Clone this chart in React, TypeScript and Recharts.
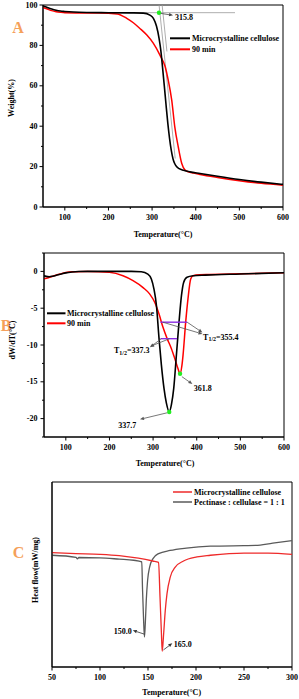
import { LineChart, Line, XAxis, YAxis, ReferenceArea, ReferenceLine, ReferenceDot } from "recharts";

const SERIF = '"Liberation Serif", "Times New Roman", serif';

// --- A: TG curves (weight %)
const tgMccT = [50, 60, 70, 80, 90, 100, 120, 150, 200, 250, 280, 295, 303, 310, 316, 320, 324, 328, 332, 336, 340, 344, 348, 352, 356, 362, 372, 387, 410, 450, 500, 550, 600];
const tgMccW = [99.5, 98.8, 98.0, 97.4, 97.0, 96.8, 96.5, 96.3, 96.2, 96.1, 96.0, 95.0, 93.4, 89.6, 83.5, 77.5, 69, 60, 50.5, 41.5, 34, 28, 23.8, 21.4, 20.0, 19.0, 18.2, 17.4, 16.6, 15.2, 13.6, 12.3, 11.2];
const tg90T = [50, 60, 70, 80, 90, 100, 150, 180, 220, 242, 257, 272, 288, 303, 318, 330, 337, 345, 352, 360, 368, 375, 383, 395, 410, 450, 500, 550, 600];
const tg90W = [98.8, 98.0, 97.2, 96.7, 96.4, 96.2, 96.0, 96.0, 95.6, 93.4, 91.2, 88.4, 85.1, 81.0, 75.2, 69.4, 62.8, 52.9, 39.7, 29.7, 21.5, 18.4, 17.4, 16.8, 16.1, 14.6, 13.0, 11.7, 10.8];
const tgXTicks = [100, 150, 200, 250, 300, 350, 400, 450, 500, 550, 600];
const tgYTicks = [0, 10, 20, 30, 40, 50, 60, 70, 80, 90, 100];

// --- B: DTG curves
const dtgMccT = [50, 55, 62, 70, 80, 90, 100, 115, 130, 150, 200, 250, 273, 288, 296, 302, 307.6, 313.6, 319, 325, 330.5, 337, 342, 347.3, 353.4, 359.4, 365, 370, 377.7, 392, 420, 500, 600];
const dtgMccV = [-0.6, -0.68, -0.72, -0.65, -0.5, -0.35, -0.2, -0.08, -0.02, 0, 0, 0, -0.05, -0.36, -1.03, -2.4, -4.6, -9.1, -12.7, -15.9, -17.9, -19.1, -18.1, -15.9, -11.4, -6.9, -3.3, -1.5, -0.8, -0.6, -0.5, -0.35, -0.18];
const dtg90T = [50, 60, 70, 80, 90, 100, 120, 150, 200, 231, 254, 277, 292, 303.7, 313.6, 322.7, 332, 342, 349.5, 357, 361.8, 366, 368.6, 374.7, 380, 386.2, 391.5, 406.8, 430, 500, 600];
const dtg90V = [-1.0, -0.85, -0.65, -0.45, -0.3, -0.15, -0.05, 0, -0.13, -0.6, -1.26, -2.2, -3.05, -4.2, -5.8, -7.6, -9.1, -10.5, -11.8, -13.2, -13.9, -12.8, -11.4, -6.9, -3.7, -1.03, -0.6, -0.45, -0.42, -0.33, -0.18];
const dtgXTicks = [100, 150, 200, 250, 300, 350, 400, 450, 500, 550, 600];
const dtgYTicks = [-22.5, -20, -17.5, -15, -12.5, -10, -7.5, -5, -2.5, 0, 2.5];

// --- C: DSC curves (arbitrary heat flow units)
const dscMccT = [50, 75, 100, 120, 140, 155, 161, 162.5, 164, 164.8, 166.3, 168, 169.8, 173.2, 178.4, 187, 201, 215, 250, 275, 300];
const dscMccV = [61.8, 61.3, 60.9, 60.2, 58.8, 57.3, 56.6, 38, 18, 8.5, 18, 30.6, 39.7, 48.6, 54, 57.3, 59.5, 60.4, 61.6, 61.5, 60.9];
const dscMixT = [50, 75, 76.5, 78, 100, 120, 135, 143.5, 144.3, 145.3, 146.3, 147.2, 148.2, 149.6, 151.7, 155.2, 161, 173, 190, 215, 250, 262, 280, 300];
const dscMixV = [60.4, 59.3, 58.4, 59.2, 59.0, 58.3, 57.7, 56.8, 42, 27, 16.2, 23.5, 36, 46.9, 54, 58.6, 61.3, 63, 64.3, 65.3, 65.6, 65.7, 67.0, 68.3];
const dscXTicks = [50, 75, 100, 125, 150, 175, 200, 225, 250, 275, 300];

const zip = (t: number[], v: number[]) => t.map((x, i) => ({ t: x, v: v[i] }));

const isMajor = (v: number, step: number) => Math.abs(v / step - Math.round(v / step)) < 1e-6;

function makeXTick(step: number, dy: number) {
  return (p: any) => {
    const v = p.payload.value;
    const major = isMajor(v, step);
    return (
      <g>
        <line x1={p.x} y1={p.y} x2={p.x} y2={p.y + (major ? 3.5 : 2)} stroke="#000" />
        {major && (
          <text x={p.x} y={p.y + dy} textAnchor="middle" dominantBaseline="central"
            fontFamily={SERIF} fontWeight="bold" fontSize={8} fill="#000">{v}</text>
        )}
      </g>
    );
  };
}

function makeYTick(step: number, dx: number) {
  return (p: any) => {
    const v = p.payload.value;
    const major = isMajor(v, step);
    return (
      <g>
        <line x1={p.x} y1={p.y} x2={p.x - (major ? 3.5 : 2)} y2={p.y} stroke="#000" />
        {major && (
          <text x={p.x - dx} y={p.y} textAnchor="end" dominantBaseline="central"
            fontFamily={SERIF} fontWeight="bold" fontSize={8} fill="#000">{v}</text>
        )}
      </g>
    );
  };
}

function arrowShape(color = "#555") {
  return (p: any) => {
    const { x1, y1, x2, y2 } = p;
    const a = Math.atan2(y2 - y1, x2 - x1);
    const L = 4, W = 1.7;
    const bx = x2 - L * Math.cos(a), by = y2 - L * Math.sin(a);
    const pts = `${x2},${y2} ${bx - W * Math.sin(a)},${by + W * Math.cos(a)} ${bx + W * Math.sin(a)},${by - W * Math.cos(a)}`;
    return (
      <g>
        <line x1={x1} y1={y1} x2={bx} y2={by} stroke={color} strokeWidth={0.8} />
        <polygon points={pts} fill={color} />
      </g>
    );
  };
}

function textShape(content: any, anchor: "start" | "middle" | "end" = "middle") {
  return (p: any) => (
    <text x={p.cx} y={p.cy} textAnchor={anchor} dominantBaseline="central"
      fontFamily={SERIF} fontWeight="bold" fontSize={8} fill="#000">{content}</text>
  );
}

const half = (val: string) => (
  <>
    <tspan>T</tspan>
    <tspan fontSize={6} dy={2.5}>1/2</tspan>
    <tspan dy={-2.5}>{val}</tspan>
  </>
);

const axisLine = { stroke: "#000", strokeWidth: 1 };

function PanelA() {
  return (
    <LineChart width={299} height={240} margin={{ top: 5, right: 16, bottom: 0, left: 0 }}>
      <XAxis dataKey="t" type="number" domain={[50, 600]} allowDataOverflow ticks={tgXTicks} interval={0}
        tickSize={0} tickMargin={0} tickLine={false} tick={makeXTick(100, 10.5)} height={33} axisLine={axisLine} />
      <YAxis type="number" domain={[0, 100]} allowDataOverflow ticks={tgYTicks} interval={0} width={43}
        tickSize={0} tickMargin={0} tickLine={false} tick={makeYTick(20, 5.5)} axisLine={axisLine} />
      <ReferenceArea x1={50} x2={600} y1={0} y2={100} fill="none" stroke="#000" ifOverflow="visible" />
      <ReferenceLine segment={[{ x: 200, y: 96.2 }, { x: 490, y: 96.2 }]} stroke="#999" strokeWidth={0.8} ifOverflow="visible" />
      <ReferenceLine segment={[{ x: 316, y: 100 }, { x: 353, y: 24 }]} stroke="#999" strokeWidth={0.8} ifOverflow="visible" />
      <ReferenceLine segment={[{ x: 323, y: 100 }, { x: 334, y: 77 }]} stroke="#999" strokeWidth={0.8} ifOverflow="visible" />
      <Line data={zip(tg90T, tg90W)} dataKey="v" type="monotone" stroke="#ff0000" strokeWidth={1.5} dot={false} isAnimationActive={false} />
      <Line data={zip(tgMccT, tgMccW)} dataKey="v" type="monotone" stroke="#000" strokeWidth={1.6} dot={false} isAnimationActive={false} />
      <ReferenceLine segment={[{ x: 318, y: 95.9 }, { x: 348, y: 94.9 }]} shape={arrowShape("#444")} ifOverflow="visible" />
      <ReferenceDot x={315.8} y={96.2} r={2.2} fill="#22ee22" stroke="none" ifOverflow="visible" />
      <ReferenceDot x={352.5} y={94} r={1} shape={textShape("315.8", "start")} ifOverflow="visible" />
    </LineChart>
  );
}

function PanelB() {
  return (
    <LineChart width={299} height={230} margin={{ top: 13, right: 15, bottom: 0, left: 0 }}>
      <XAxis dataKey="t" type="number" domain={[50, 600]} allowDataOverflow ticks={dtgXTicks} interval={0}
        tickSize={0} tickMargin={0} tickLine={false} tick={makeXTick(100, 10)} height={33} axisLine={axisLine} />
      <YAxis type="number" domain={[-22.5, 2.5]} allowDataOverflow ticks={dtgYTicks} interval={0} width={44}
        tickSize={0} tickMargin={0} tickLine={false} tick={makeYTick(5, 6.5)} axisLine={axisLine} />
      <ReferenceArea x1={50} x2={600} y1={-22.5} y2={2.5} fill="none" stroke="#000" ifOverflow="visible" />
      <Line data={zip(dtg90T, dtg90V)} dataKey="v" type="monotone" stroke="#ff0000" strokeWidth={1.5} dot={false} isAnimationActive={false} />
      <Line data={zip(dtgMccT, dtgMccV)} dataKey="v" type="monotone" stroke="#000" strokeWidth={1.6} dot={false} isAnimationActive={false} />
      <ReferenceLine segment={[{ x: 317, y: -6.9 }, { x: 378, y: -6.9 }]} stroke="#8a2be2" strokeWidth={1.4} ifOverflow="visible" />
      <ReferenceLine segment={[{ x: 317, y: -9.14 }, { x: 355, y: -9.14 }]} stroke="#8a2be2" strokeWidth={1.4} ifOverflow="visible" />
      <ReferenceLine segment={[{ x: 322, y: -6.9 }, { x: 413, y: -8.5 }]} shape={arrowShape()} ifOverflow="visible" />
      <ReferenceLine segment={[{ x: 378, y: -6.9 }, { x: 413, y: -8.3 }]} shape={arrowShape()} ifOverflow="visible" />
      <ReferenceLine segment={[{ x: 319, y: -9.14 }, { x: 293, y: -10.3 }]} shape={arrowShape()} ifOverflow="visible" />
      <ReferenceLine segment={[{ x: 338, y: -9.14 }, { x: 293, y: -10.2 }]} shape={arrowShape()} ifOverflow="visible" />
      <ReferenceLine segment={[{ x: 333, y: -19.2 }, { x: 270, y: -20.1 }]} shape={arrowShape()} ifOverflow="visible" />
      <ReferenceLine segment={[{ x: 366, y: -14.3 }, { x: 390, y: -15.3 }]} shape={arrowShape()} ifOverflow="visible" />
      <ReferenceDot x={337} y={-19.1} r={2.2} fill="#22ee22" stroke="none" ifOverflow="visible" />
      <ReferenceDot x={361.8} y={-13.9} r={2.2} fill="#22ee22" stroke="none" ifOverflow="visible" />
      <ReferenceDot x={414.5} y={-8.9} r={1} shape={textShape(half("=355.4"), "start")} ifOverflow="visible" />
      <ReferenceDot x={292} y={-10.7} r={1} shape={textShape(half("=337.3"), "end")} ifOverflow="visible" />
      <ReferenceDot x={240.7} y={-20.9} r={1} shape={textShape("337.7")} ifOverflow="visible" />
      <ReferenceDot x={413.7} y={-15.85} r={1} shape={textShape("361.8")} ifOverflow="visible" />
    </LineChart>
  );
}

function PanelC() {
  return (
    <LineChart width={299} height={229} margin={{ top: 12, right: 7, bottom: 0, left: 0 }}>
      <XAxis dataKey="t" type="number" domain={[50, 300]} allowDataOverflow ticks={dscXTicks} interval={0}
        tickSize={0} tickMargin={0} tickLine={false} tick={makeXTick(50, 10)} height={32} axisLine={axisLine} />
      <YAxis type="number" domain={[0, 100]} allowDataOverflow width={52} tick={false} tickLine={false} axisLine={axisLine} />
      <ReferenceArea x1={50} x2={300} y1={0} y2={100} fill="none" stroke="#000" ifOverflow="visible" />
      <Line data={zip(dscMixT, dscMixV)} dataKey="v" type="monotone" stroke="#5a5a5a" strokeWidth={1.3} dot={false} isAnimationActive={false} />
      <Line data={zip(dscMccT, dscMccV)} dataKey="v" type="monotone" stroke="#ee2a2a" strokeWidth={1.3} dot={false} isAnimationActive={false} />
      <ReferenceLine segment={[{ x: 146.5, y: 17.7 }, { x: 134.2, y: 19.8 }]} shape={arrowShape("#333")} ifOverflow="visible" />
      <ReferenceLine segment={[{ x: 166, y: 9.2 }, { x: 175.3, y: 12.8 }]} shape={arrowShape("#333")} ifOverflow="visible" />
      <ReferenceDot x={123.8} y={19.3} r={1} shape={textShape("150.0")} ifOverflow="visible" />
      <ReferenceDot x={186.3} y={12.3} r={1} shape={textShape("165.0")} ifOverflow="visible" />
    </LineChart>
  );
}

const txt = { fontFamily: SERIF, fontWeight: "bold" as const, fontSize: 8, fill: "#000" };
const letter = { fontFamily: SERIF, fontWeight: "bold" as const, fontSize: 16, fill: "#f5a05a" };

function Overlay() {
  return (
    <svg width={299} height={699} style={{ position: "absolute", left: 0, top: 0, pointerEvents: "none" }}>
      <text x={18} y={27.5} textAnchor="middle" dominantBaseline="central" {...letter}>A</text>
      <text x={6} y={325} textAnchor="middle" dominantBaseline="central" {...letter}>B</text>
      <text x={18.5} y={552} textAnchor="middle" dominantBaseline="central" {...letter}>C</text>

      <text transform="translate(11,98) rotate(-90)" textAnchor="middle" dominantBaseline="central" {...txt}>Weight(%)</text>
      <text transform="translate(12.5,340) rotate(-90)" textAnchor="middle" dominantBaseline="central" {...txt}>dW/dT(°C)</text>
      <text transform="translate(35,570) rotate(-90)" textAnchor="middle" dominantBaseline="central" {...txt}>Heat flow(mW/mg)</text>

      <text x={163} y={234} textAnchor="middle" dominantBaseline="central" {...txt}>Temperature(°C)</text>
      <text x={165} y={463} textAnchor="middle" dominantBaseline="central" {...txt}>Temperature(°C)</text>
      <text x={171.7} y={692.7} textAnchor="middle" dominantBaseline="central" {...txt}>Temperature(°C)</text>

      <line x1={170} y1={38.3} x2={190} y2={38.3} stroke="#000" strokeWidth={2} />
      <text x={192} y={38.3} dominantBaseline="central" {...txt}>Microcrystalline cellulose</text>
      <line x1={170} y1={49.3} x2={190} y2={49.3} stroke="#ff0000" strokeWidth={2} />
      <text x={192} y={49.3} dominantBaseline="central" {...txt}>90 min</text>

      <line x1={47} y1={313.3} x2={65.5} y2={313.3} stroke="#000" strokeWidth={2} />
      <text x={67} y={313.3} dominantBaseline="central" {...txt}>Microcrystalline cellulose</text>
      <line x1={47} y1={323.3} x2={65.5} y2={323.3} stroke="#ff0000" strokeWidth={2} />
      <text x={67} y={323.3} dominantBaseline="central" {...txt}>90 min</text>

      <line x1={173} y1={492} x2={192} y2={492} stroke="#ee2a2a" strokeWidth={1.5} />
      <text x={194} y={492} dominantBaseline="central" {...txt}>Microcrystalline cellulose</text>
      <line x1={173} y1={502} x2={192} y2={502} stroke="#5a5a5a" strokeWidth={1.5} />
      <text x={194} y={502} dominantBaseline="central" {...txt}>Pectinase : cellulase = 1 : 1</text>
    </svg>
  );
}

export default function App() {
  return (
    <div style={{ position: "absolute", left: 0, top: 0, width: 299, height: 699, background: "#fff" }}>
      <div style={{ position: "absolute", left: 0, top: 0 }}><PanelA /></div>
      <div style={{ position: "absolute", left: 0, top: 240 }}><PanelB /></div>
      <div style={{ position: "absolute", left: 0, top: 470 }}><PanelC /></div>
      <Overlay />
    </div>
  );
}
